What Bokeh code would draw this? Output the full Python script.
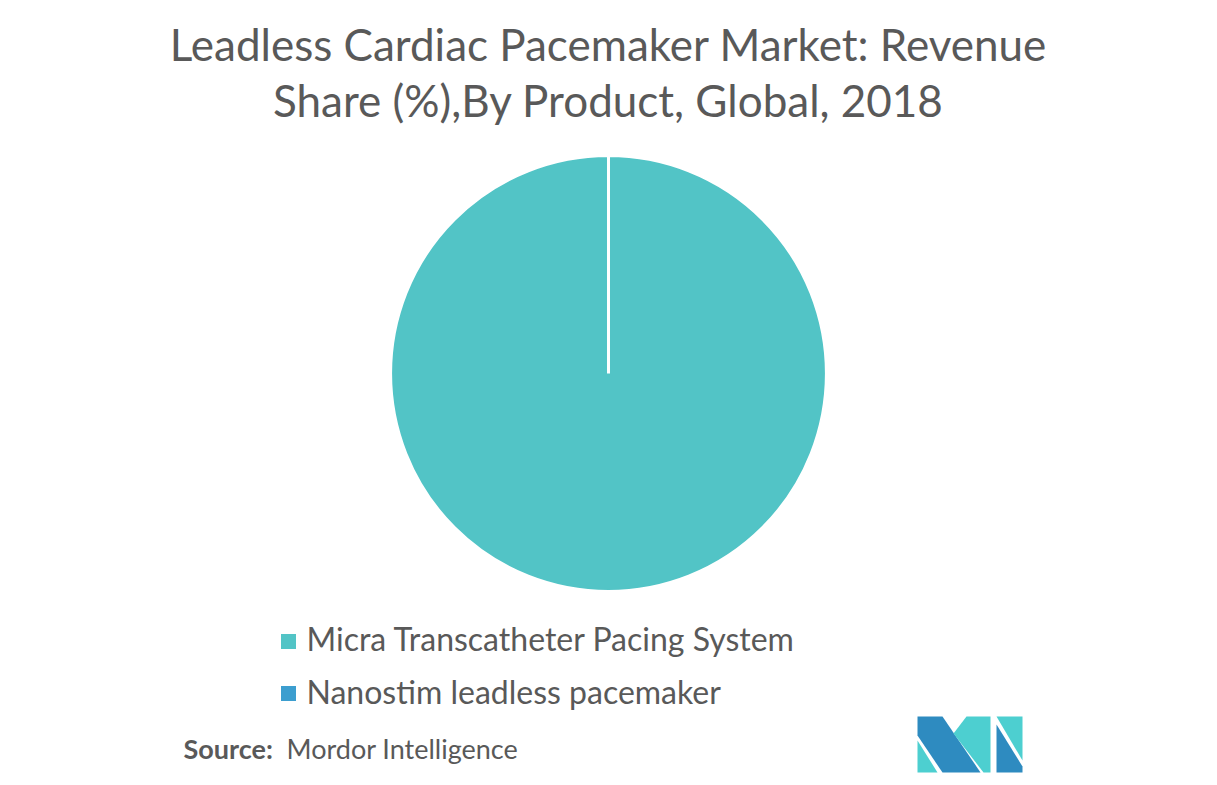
import math
from bokeh.plotting import figure
from bokeh.models import ColumnDataSource, Range1d
from bokeh.core.properties import value
from bokeh.embed import file_html
from bokeh.resources import INLINE

# ---- data ----
title_lines = ["Leadless Cardiac Pacemaker Market: Revenue", "Share (%),By Product, Global, 2018"]
categories = ["Micra Transcatheter Pacing System", "Nanostim leadless pacemaker"]
shares = [100.0, 0.0]
colors = ["#52C4C6", "#3C9ECF"]
source_label = "Source:"
source_name = "Mordor Intelligence"

W, H = 1209, 777
p = figure(width=W, height=H, output_backend="svg", toolbar_location=None,
           x_range=Range1d(0, W), y_range=Range1d(H, 0), min_border=0,
           outline_line_color=None, background_fill_color="white")
p.axis.visible = False
p.grid.visible = False

# ---- pie (clockwise from 12 o'clock; zero-size slices are not drawn) ----
total = sum(shares)
xs, ys, starts, ends, cols = [], [], [], [], []
acc = 0.0
cx, cy, r = 608, 373, 218
for s, c in zip(shares, colors):
    a0 = math.pi / 2 + 2 * math.pi * acc / total
    acc += s
    a1 = math.pi / 2 + 2 * math.pi * acc / total
    if s > 0:
        xs.append(cx); ys.append(cy); starts.append(a0); ends.append(a1); cols.append(c)
pie_src = ColumnDataSource(dict(x=xs, y=ys, start=starts, end=ends, color=cols))
p.wedge(x="x", y="y", radius=r, start_angle="start", end_angle="end",
        direction="anticlock", fill_color="color", line_color="white", line_width=3,
        source=pie_src)

# ---- title ----
p.text(x=[608, 608], y=[43, 99], text=title_lines, text_font=value("Lato"),
       text_font_size="44px", text_color="#595959", text_align="center",
       text_baseline="middle")

# ---- legend ----
leg_y = [641, 693]
p.scatter(x=[288, 288], y=leg_y, marker="square", size=15, fill_color=colors,
          line_color=None)
p.text(x=[306, 306], y=[638, 691], text=categories, text_font=value("Lato"),
       text_font_size="32px", text_color="#595959", text_baseline="middle")

# ---- source ----
p.text(x=[183], y=[748], text=[source_label], text_font=value("Lato"),
       text_font_size="27px", text_font_style="bold", text_color="#595959",
       text_baseline="middle")
p.text(x=[286], y=[748], text=[source_name], text_font=value("Lato"),
       text_font_size="27px", text_color="#595959", text_baseline="middle")

# ---- logo ----
logo_blue = "#2E8BC0"
logo_teal = "#4DCFD0"
shapes = [
    ([917, 942, 980, 942, 917], [716, 716, 772, 772, 735], logo_blue),
    ([917, 917, 937], [740, 772, 772], logo_teal),
    ([966, 990, 990, 983, 953], [716, 716, 772, 772, 733], logo_teal),
    ([996, 1022, 1022], [716, 716, 760], logo_teal),
    ([996, 1022, 1022, 996], [724, 766, 772, 772], logo_blue),
]
p.patches(xs=[s[0] for s in shapes], ys=[s[1] for s in shapes],
          fill_color=[s[2] for s in shapes], line_color=None)

open("out.html", "w").write(file_html(p, INLINE))
